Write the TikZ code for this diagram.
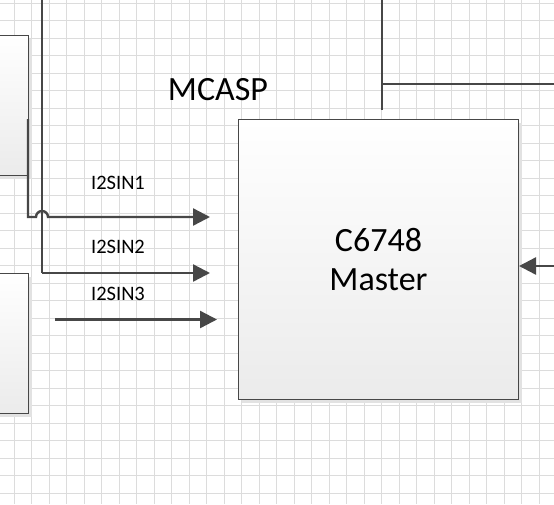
\documentclass[tikz,border=0pt]{standalone}
\usepackage{fontspec}
\setmainfont{Carlito}
\usetikzlibrary{arrows.meta}
\definecolor{gridc}{HTML}{DCDCDC}
\definecolor{linec}{HTML}{474747}
\definecolor{shadowc}{HTML}{E2E2E2}
\definecolor{boxbot}{HTML}{EBEBEB}
\tikzset{
  wire/.style={draw=linec, line width=2.4pt},
  arrowwire/.style={wire, -{Triangle[length=17pt,width=17pt]}},
  blockbox/.style={draw=linec, line width=1pt, rectangle, top color=white, bottom color=boxbot, anchor=north west, inner sep=0pt},
  shadowbox/.style={fill=shadowc, draw=none},
  lbl/.style={font=\fontsize{20.5}{24}\selectfont, inner sep=0pt},
  bigtxt/.style={font=\fontsize{34}{39}\selectfont, inner sep=0pt, align=center},
}
\begin{document}
\begin{tikzpicture}[x=1pt,y=-1pt]
\useasboundingbox (0,0) rectangle (554,504);
\clip (0,0) rectangle (554,504);
\fill[white] (0,0) rectangle (554,504);
% grid
\foreach \i in {0,...,31} {\draw[gridc, line width=1pt] (14.3+17.5*\i,0) -- (14.3+17.5*\i,504);}
\foreach \i in {0,...,28} {\draw[gridc, line width=1pt] (0,3.3+17.5*\i) -- (554,3.3+17.5*\i);}
% shadows
\fill[shadowbox] (-10,39) rectangle (32,179);
\fill[shadowbox] (-10,277) rectangle (32,417);
\fill[shadowbox] (242,123) rectangle (522,403);
% boxes
\node[blockbox, minimum width=38pt, minimum height=140pt] (left1) at (-10,35) {};
\node[blockbox, minimum width=38pt, minimum height=140pt] (left2) at (-10,273) {};
\node[blockbox, minimum width=280pt, minimum height=280pt, bigtxt] (main) at (238,119) {C6748\\Master};
% labels
\node[font=\fontsize{34}{40}\selectfont, inner sep=0pt] (mcasp) at (218,90) {MCASP};
\node[lbl] (l1) at (118,183) {I2SIN1};
\node[lbl] (l2) at (118,246.5) {I2SIN2};
\node[lbl] (l3) at (118,293.5) {I2SIN3};
% coordinates
\coordinate (s1) at (28,119);
\coordinate (t1) at (210,217);
\coordinate (v2) at (42,-3);
\coordinate (t2) at (210,273);
\coordinate (s3) at (55,319.5);
\coordinate (t3) at (217,319.5);
\coordinate (vr) at (382,-3);
\coordinate (vrb) at (382,110);
\coordinate (hr) at (557,84);
\coordinate (r3) at (557,266);
% connectors
\draw[wire] (v2) -- (v2 |- t2);
\draw[arrowwire] (v2 |- t2) -- (t2);
\draw[arrowwire] (s1) -- (s1 |- t1) -- (36,217) arc[start angle=180, end angle=360, radius=6] -- (t1);
\draw[arrowwire] (s3) -- (t3);
\draw[wire] (vr) -- (vrb);
\draw[wire] (vr |- hr) -- (hr);
\draw[arrowwire] (r3) -- (main.east |- r3);
\end{tikzpicture}
\end{document}
